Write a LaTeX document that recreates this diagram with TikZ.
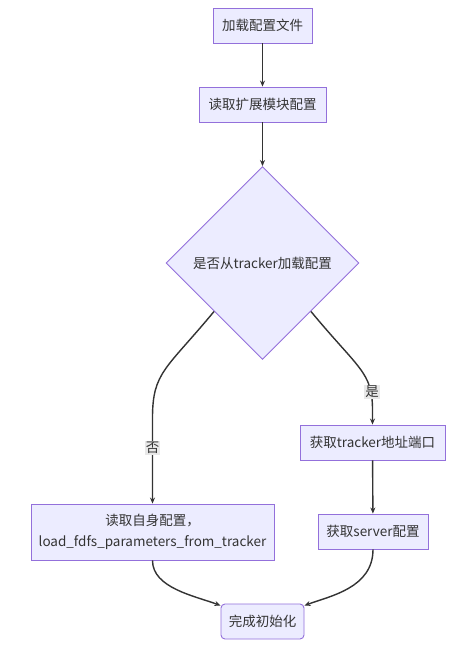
\documentclass[tikz,border=0pt]{standalone}
\usepackage{fontspec}
\setmainfont{Noto Sans CJK SC}
\usetikzlibrary{arrows.meta,shapes.geometric,calc}
\definecolor{nodefill}{HTML}{ECECFF}
\definecolor{nodeline}{HTML}{9370DB}
\definecolor{ink}{HTML}{333333}
\definecolor{lblbg}{HTML}{E8E8E8}
\tikzset{
  box/.style={draw=nodeline, fill=nodefill, line width=0.9pt, text=ink, inner sep=0pt, align=center,
    font=\fontsize{13.5}{21}\selectfont},
  dia/.style={draw=nodeline, fill=nodefill, line width=0.9pt, text=ink, diamond, aspect=1, inner sep=0pt,
    minimum width=193pt, minimum height=193pt, font=\fontsize{13.5}{17}\selectfont},
  lbl/.style={fill=lblbg, text=ink, inner sep=1pt, font=\fontsize{13.5}{17}\selectfont},
  flow/.style={draw=ink, line width=1.4pt, -{Stealth[length=6pt,width=5pt]}},
}
\begin{document}
\begin{tikzpicture}[x=1pt,y=-1pt]
\useasboundingbox[fill=white] (0,0) rectangle (474,649);
\node[box, minimum width=99pt, minimum height=35pt] (load) at (262.5,25.5) {加载配置文件};
\node[box, minimum width=127pt, minimum height=35pt] (ext) at (262.5,104.5) {读取扩展模块配置};
\node[dia] (dec) at (262.5,263) {是否从tracker加载配置};
\node[box, minimum width=243pt, minimum height=56pt] (self) at (152.5,532) {读取自身配置，\\load\_fdfs\_parameters\_from\_tracker};
\node[box, minimum width=145pt, minimum height=35pt] (trk) at (372.5,442.5) {获取tracker地址端口};
\node[box, minimum width=110pt, minimum height=35pt] (srv) at (373,531.5) {获取server配置};
\node[box, rounded corners=4pt, minimum width=83pt, minimum height=35pt] (done) at (262.5,621.5) {完成初始化};

\draw[flow] (load) -- (ext);
\draw[flow] (ext) -- (dec);
\draw[flow] (dec.south west) .. controls ($(dec.south west)+(-48,58)$) and (152.5,372) .. (152.5,418) -- (self.north)
  node[lbl, pos=0.35] (no) {否};
\draw[flow] (dec.south east) .. controls ($(dec.south east)+(48,58)$) and (372.5,372) .. (372.5,410) -- (trk.north);
\node[lbl] (yes) at (372,392) {是};
\draw[flow] (trk) -- (srv);
\draw[flow] (self.south) .. controls (152.5,588) and (195,596) .. ($(done.north west)+(0,2)$);
\draw[flow] (srv.south) .. controls (373,588) and (330,596) .. ($(done.north east)+(0,2)$);
\end{tikzpicture}
\end{document}
